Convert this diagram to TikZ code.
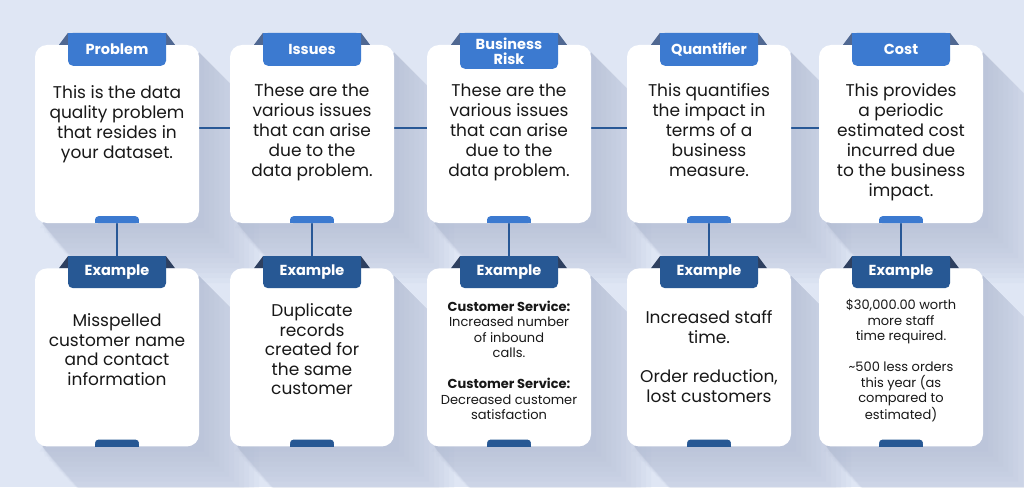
\documentclass[tikz,border=0pt]{standalone}
\usepackage{fontspec}
\setmainfont{Poppins}
\usetikzlibrary{positioning}
\pgfdeclarelayer{back}
\pgfsetlayers{back,main}

\definecolor{bgcol}{RGB}{223,230,244}
\definecolor{shadecol}{RGB}{176,186,210}
\definecolor{tabblue}{RGB}{60,122,208}
\definecolor{tabdark}{RGB}{39,88,148}
\definecolor{earblue}{RGB}{80,104,146}
\definecolor{eardark}{RGB}{46,64,96}
\definecolor{linkblue}{RGB}{40,88,150}
\definecolor{inkcol}{RGB}{24,24,24}

\begin{document}
\begin{tikzpicture}[every node/.style={inner sep=0pt},
	card/.style={rectangle, rounded corners=12pt, fill=white, minimum width=164pt, minimum height=178pt},
	tabtitle/.style={text=white, align=center, font=\fontsize{14.5}{15}\selectfont\bfseries},
	toptext/.style={anchor=north, text=inkcol, align=center, font=\fontsize{17}{20}\selectfont},
	bigtext/.style={text=inkcol, align=center, font=\fontsize{17}{19.5}\selectfont},
	smalltext/.style={text=inkcol, align=center, font=\fontsize{13}{15.5}\selectfont},
	link/.style={color=linkblue, line width=1.3pt},
	longshadow/.style={fill=shadecol, opacity=0.085}
]
\useasboundingbox (0pt,0pt) rectangle (1024pt,-487pt);
\begin{pgfonlayer}{back}
\fill[bgcol] (0pt,0pt) rectangle (1024pt,-487pt);
\end{pgfonlayer}

% top row
\node (c1) [card] at (117pt,-134pt) {};
\node (c2) [card] at (312pt,-134pt) {};
\node (c3) [card] at (509pt,-134pt) {};
\node (c4) [card] at (709pt,-134pt) {};
\node (c5) [card] at (901pt,-134pt) {};
% bottom row
\node (e1) [card, below=45pt of c1] {};
\node (e2) [card, below=45pt of c2] {};
\node (e3) [card, below=45pt of c3] {};
\node (e4) [card, below=45pt of c4] {};
\node (e5) [card, below=45pt of c5] {};

\begin{pgfonlayer}{back}
% soft long shadows, built up in steps
\foreach \c in {c1,c2,c3,c4,c5,e1,e2,e3,e4,e5}
	\foreach \d in {5,10,...,60}
		\fill[longshadow] ([yshift=-8pt]\c.north east) -- ++(\d pt,-\d pt)
			-- ([shift={(\d pt,-\d pt)}]\c.south east)
			-- ([shift={(\d pt,-\d pt)}]\c.south west) -- ([xshift=8pt]\c.south west) -- cycle;
\path[link]
([yshift=6pt]c1.east) edge ([yshift=6pt]c2.west)
([yshift=6pt]c2.east) edge ([yshift=6pt]c3.west)
([yshift=6pt]c3.east) edge ([yshift=6pt]c4.west)
([yshift=6pt]c4.east) edge ([yshift=6pt]c5.west)
(c1.south) edge (e1.north)
(c2.south) edge (e2.north)
(c3.south) edge (e3.north)
(c4.south) edge (e4.north)
(c5.south) edge (e5.north);
\end{pgfonlayer}

% tabs, ears and bottom lips
\foreach \c/\h/\col/\ecol in {c1/33/tabblue/earblue,c2/33/tabblue/earblue,c3/36/tabblue/earblue,c4/33/tabblue/earblue,c5/33/tabblue/earblue,
	e1/32/tabdark/eardark,e2/32/tabdark/eardark,e3/32/tabdark/eardark,e4/32/tabdark/eardark,e5/32/tabdark/eardark}{
	\fill[\ecol] ([xshift=-58pt]\c.north) -- ([xshift=-49pt,yshift=12pt]\c.north) -- ([xshift=-49pt]\c.north) -- cycle;
	\fill[\ecol] ([xshift=58pt]\c.north) -- ([xshift=49pt,yshift=12pt]\c.north) -- ([xshift=49pt]\c.north) -- cycle;
	\fill[\col, rounded corners=5pt] ([xshift=-49pt,yshift=12pt]\c.north) rectangle ([xshift=49pt,yshift={(12-\h)*1pt}]\c.north);
	\fill[\col] ([xshift=-49pt,yshift=12pt]\c.north) rectangle ([xshift=49pt,yshift=2pt]\c.north);
	\fill[\col, rounded corners=3.5pt] ([xshift=-22pt,yshift=7pt]\c.south) rectangle ([xshift=22pt]\c.south);
	\fill[\col] ([xshift=-22pt,yshift=3pt]\c.south) rectangle ([xshift=22pt]\c.south);
}

% tab titles
\node (t1) [tabtitle] at ([yshift=-4.5pt]c1.north) {Problem};
\node (t2) [tabtitle] at ([yshift=-4.5pt]c2.north) {Issues};
\node (t3) [tabtitle] at ([yshift=-6pt]c3.north) {Business\\Risk};
\node (t4) [tabtitle] at ([yshift=-4.5pt]c4.north) {Quantifier};
\node (t5) [tabtitle] at ([yshift=-4.5pt]c5.north) {Cost};
\node (s1) [tabtitle] at ([yshift=-4pt]e1.north) {Example};
\node (s2) [tabtitle] at ([yshift=-4pt]e2.north) {Example};
\node (s3) [tabtitle] at ([yshift=-4pt]e3.north) {Example};
\node (s4) [tabtitle] at ([yshift=-4pt]e4.north) {Example};
\node (s5) [tabtitle] at ([yshift=-4pt]e5.north) {Example};

% card texts
\node (d1) [toptext] at ([yshift=-41pt]c1.north) {This is the data\\quality problem\\that resides in\\your dataset.};
\node (d2) [toptext] at ([yshift=-39pt]c2.north) {These are the\\various issues\\that can arise\\due to the\\data problem.};
\node (d3) [toptext] at ([yshift=-39pt]c3.north) {These are the\\various issues\\that can arise\\due to the\\data problem.};
\node (d4) [toptext] at ([yshift=-39pt]c4.north) {This quantifies\\the impact in\\terms of a\\business\\measure.};
\node (d5) [toptext] at ([yshift=-39pt]c5.north) {This provides\\a periodic\\estimated cost\\incurred due\\to the business\\impact.};
\node (x1) [bigtext] at ([yshift=8pt]e1.center) {Misspelled\\customer name\\and contact\\information};
\node (x2) [bigtext] at ([yshift=8pt]e2.center) {Duplicate\\records\\created for\\the same\\customer};
\node (x3) [smalltext] at ([yshift=-3pt]e3.center) {\textbf{Customer Service:}\\Increased number\\of inbound\\calls.\\[15.5pt]\textbf{Customer Service:}\\Decreased customer\\satisfaction};
\node (x4) [bigtext] at ([yshift=1pt]e4.center) {Increased staff\\time.\\[20pt]Order reduction,\\lost customers};
\node (x5) [smalltext] at ([yshift=-3pt]e5.center) {\$30,000.00 worth\\more staff\\time required.\\[15.5pt]\textasciitilde500 less orders\\this year (as\\compared to\\estimated)};
\end{tikzpicture}
\end{document}
